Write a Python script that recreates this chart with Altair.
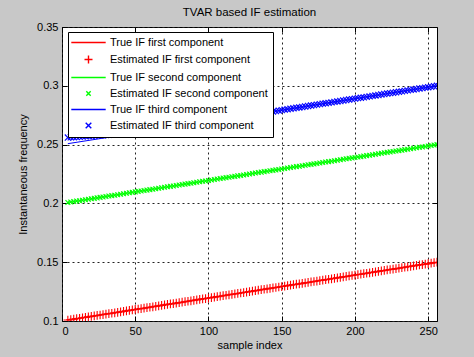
import altair as alt
import pandas as pd

true_labels = ["True IF first component", "True IF second component", "True IF third component"]
est_labels = ["Estimated IF first component", "Estimated IF second component", "Estimated IF third component"]
legend_order = [true_labels[0], est_labels[0], true_labels[1], est_labels[1], true_labels[2], est_labels[2]]

x_ticks = [0, 50, 100, 150, 200, 250]
y_ticks = [0.1, 0.15, 0.2, 0.25, 0.3, 0.35]

# True instantaneous frequency lines (end points)
true_x = [4, 256]
true_first = [0.1008, 0.1500]
true_second = [0.2008, 0.2500]
true_third = [0.2508, 0.3000]

# Estimated IF samples
est_samples = [4, 6, 8, 10, 12, 14, 16, 18, 20, 22, 24, 26, 28, 30, 32, 34,
               36, 38, 40, 42, 44, 46, 48, 50, 52, 54, 56, 58, 60, 62, 64, 66,
               68, 70, 72, 74, 76, 78, 80, 82, 84, 86, 88, 90, 92, 94, 96, 98,
               100, 102, 104, 106, 108, 110, 112, 114, 116, 118, 120, 122, 124, 126, 128, 130,
               132, 134, 136, 138, 140, 142, 144, 146, 148, 150, 152, 154, 156, 158, 160, 162,
               164, 166, 168, 170, 172, 174, 176, 178, 180, 182, 184, 186, 188, 190, 192, 194,
               196, 198, 200, 202, 204, 206, 208, 210, 212, 214, 216, 218, 220, 222, 224, 226,
               228, 230, 232, 234, 236, 238, 240, 242, 244, 246, 248, 250, 252, 254, 256]
est_first = [0.1008, 0.1012, 0.1016, 0.1020, 0.1023, 0.1027, 0.1031, 0.1035, 0.1039, 0.1043, 0.1047, 0.1051, 0.1055, 0.1059, 0.1063, 0.1066,
             0.1070, 0.1074, 0.1078, 0.1082, 0.1086, 0.1090, 0.1094, 0.1098, 0.1102, 0.1105, 0.1109, 0.1113, 0.1117, 0.1121, 0.1125, 0.1129,
             0.1133, 0.1137, 0.1141, 0.1145, 0.1148, 0.1152, 0.1156, 0.1160, 0.1164, 0.1168, 0.1172, 0.1176, 0.1180, 0.1184, 0.1188, 0.1191,
             0.1195, 0.1199, 0.1203, 0.1207, 0.1211, 0.1215, 0.1219, 0.1223, 0.1227, 0.1230, 0.1234, 0.1238, 0.1242, 0.1246, 0.1250, 0.1254,
             0.1258, 0.1262, 0.1266, 0.1270, 0.1273, 0.1277, 0.1281, 0.1285, 0.1289, 0.1293, 0.1297, 0.1301, 0.1305, 0.1309, 0.1313, 0.1316,
             0.1320, 0.1324, 0.1328, 0.1332, 0.1336, 0.1340, 0.1344, 0.1348, 0.1352, 0.1355, 0.1359, 0.1363, 0.1367, 0.1371, 0.1375, 0.1379,
             0.1383, 0.1387, 0.1391, 0.1395, 0.1398, 0.1402, 0.1406, 0.1410, 0.1414, 0.1418, 0.1422, 0.1426, 0.1430, 0.1434, 0.1438, 0.1441,
             0.1445, 0.1449, 0.1453, 0.1457, 0.1461, 0.1465, 0.1469, 0.1473, 0.1477, 0.1480, 0.1484, 0.1488, 0.1492, 0.1496, 0.1500]
est_second = [0.2008, 0.2012, 0.2016, 0.2020, 0.2023, 0.2027, 0.2031, 0.2035, 0.2039, 0.2043, 0.2047, 0.2051, 0.2055, 0.2059, 0.2063, 0.2066,
              0.2070, 0.2074, 0.2078, 0.2082, 0.2086, 0.2090, 0.2094, 0.2098, 0.2102, 0.2105, 0.2109, 0.2113, 0.2117, 0.2121, 0.2125, 0.2129,
              0.2133, 0.2137, 0.2141, 0.2145, 0.2148, 0.2152, 0.2156, 0.2160, 0.2164, 0.2168, 0.2172, 0.2176, 0.2180, 0.2184, 0.2188, 0.2191,
              0.2195, 0.2199, 0.2203, 0.2207, 0.2211, 0.2215, 0.2219, 0.2223, 0.2227, 0.2230, 0.2234, 0.2238, 0.2242, 0.2246, 0.2250, 0.2254,
              0.2258, 0.2262, 0.2266, 0.2270, 0.2273, 0.2277, 0.2281, 0.2285, 0.2289, 0.2293, 0.2297, 0.2301, 0.2305, 0.2309, 0.2313, 0.2316,
              0.2320, 0.2324, 0.2328, 0.2332, 0.2336, 0.2340, 0.2344, 0.2348, 0.2352, 0.2355, 0.2359, 0.2363, 0.2367, 0.2371, 0.2375, 0.2379,
              0.2383, 0.2387, 0.2391, 0.2395, 0.2398, 0.2402, 0.2406, 0.2410, 0.2414, 0.2418, 0.2422, 0.2426, 0.2430, 0.2434, 0.2438, 0.2441,
              0.2445, 0.2449, 0.2453, 0.2457, 0.2461, 0.2465, 0.2469, 0.2473, 0.2477, 0.2480, 0.2484, 0.2488, 0.2492, 0.2496, 0.2500]
est_third = [0.2560, 0.2562, 0.2563, 0.2565, 0.2567, 0.2568, 0.2570, 0.2572, 0.2573, 0.2575, 0.2577, 0.2578, 0.2580, 0.2582, 0.2584, 0.2585,
             0.2587, 0.2589, 0.2591, 0.2593, 0.2594, 0.2596, 0.2598, 0.2600, 0.2602, 0.2605, 0.2609, 0.2613, 0.2617, 0.2621, 0.2625, 0.2629,
             0.2633, 0.2637, 0.2641, 0.2645, 0.2648, 0.2652, 0.2656, 0.2660, 0.2664, 0.2668, 0.2672, 0.2676, 0.2680, 0.2684, 0.2688, 0.2691,
             0.2695, 0.2699, 0.2703, 0.2707, 0.2711, 0.2715, 0.2719, 0.2723, 0.2727, 0.2730, 0.2734, 0.2738, 0.2742, 0.2746, 0.2750, 0.2754,
             0.2758, 0.2762, 0.2766, 0.2770, 0.2773, 0.2777, 0.2781, 0.2785, 0.2789, 0.2793, 0.2797, 0.2801, 0.2805, 0.2809, 0.2813, 0.2816,
             0.2820, 0.2824, 0.2828, 0.2832, 0.2836, 0.2840, 0.2844, 0.2848, 0.2852, 0.2855, 0.2859, 0.2863, 0.2867, 0.2871, 0.2875, 0.2879,
             0.2883, 0.2887, 0.2891, 0.2895, 0.2898, 0.2902, 0.2906, 0.2910, 0.2914, 0.2918, 0.2922, 0.2926, 0.2930, 0.2934, 0.2938, 0.2941,
             0.2945, 0.2949, 0.2953, 0.2957, 0.2961, 0.2965, 0.2969, 0.2973, 0.2977, 0.2980, 0.2984, 0.2988, 0.2992, 0.2996, 0.3000]

RED, GREEN, BLUE = "#ff0000", "#00ff00", "#0000ff"
PLUS = "M-1,0L1,0M0,-1L0,1"
X_SMALL = "M-0.55,-0.55L0.55,0.55M-0.55,0.55L0.55,-0.55"
X_MID = "M-0.7,-0.7L0.7,0.7M-0.7,0.7L0.7,-0.7"
LINE_SYM = "M-4.3,0L4.3,0"
FONT = "Liberation Sans"

true_df = pd.DataFrame({
    "sample": true_x * 3,
    "freq": true_first + true_second + true_third,
    "series": [true_labels[0]] * 2 + [true_labels[1]] * 2 + [true_labels[2]] * 2,
})
n = len(est_samples)
est_df = pd.DataFrame({
    "sample": est_samples * 3,
    "freq": est_first + est_second + est_third,
    "series": [est_labels[0]] * n + [est_labels[1]] * n + [est_labels[2]] * n,
})

xscale = alt.Scale(domain=[0, 256], nice=False, zero=False)
yscale = alt.Scale(domain=[0.1, 0.35], nice=False, zero=False)

lines = alt.Chart(true_df).mark_line(strokeWidth=1, clip=True).encode(
    x=alt.X("sample:Q", scale=xscale,
            axis=alt.Axis(values=x_ticks, format="d", title="sample index", grid=True,
                          offset=-5, tickSize=5, ticks=True, domain=False,
                          labelPadding=4, titlePadding=3)),
    y=alt.Y("freq:Q", scale=yscale,
            axis=alt.Axis(values=y_ticks, format="~g", title="Instantaneous frequency", grid=True,
                          offset=-5, tickSize=5, ticks=True, domain=False,
                          labelPadding=4, titlePadding=8)),
    color=alt.Color("series:N", scale=alt.Scale(domain=true_labels, range=[RED, GREEN, BLUE]), legend=None),
    detail="series:N",
)

points = alt.Chart(est_df).mark_point(filled=False, size=76, strokeWidth=1.1, clip=True, opacity=1).encode(
    x=alt.X("sample:Q", scale=xscale, axis=None),
    y=alt.Y("freq:Q", scale=yscale, axis=None),
    color=alt.Color("series:N", scale=alt.Scale(domain=est_labels, range=[RED, GREEN, BLUE]), legend=None),
    shape=alt.Shape("series:N", scale=alt.Scale(domain=est_labels, range=[PLUS, X_SMALL, X_MID]), legend=None),
)

stroke_expr = ("indexof(datum.value, 'first') >= 0 ? '" + RED + "' : "
               "(indexof(datum.value, 'second') >= 0 ? '" + GREEN + "' : '" + BLUE + "')")

legend_layer = alt.Chart(true_df).transform_filter("false").mark_point(filled=False, size=64).encode(
    x=alt.X("sample:Q", scale=xscale,
            axis=alt.Axis(orient="top", values=x_ticks, labels=False, title=None, grid=False,
                          offset=-5, tickSize=5, ticks=True, domain=False)),
    y=alt.Y("freq:Q", scale=yscale,
            axis=alt.Axis(orient="right", values=y_ticks, labels=False, title=None, grid=False,
                          offset=-5, tickSize=5, ticks=True, domain=False)),
    shape=alt.Shape("series:N",
                    scale=alt.Scale(domain=legend_order,
                                    range=[LINE_SYM, PLUS, LINE_SYM, X_SMALL, LINE_SYM, X_MID]),
                    legend=alt.Legend(title=None, orient="none", legendX=6, legendY=5, padding=5,
                                      fillColor="white", strokeColor="black", symbolOffset=10,
                                      labelOffset=16, rowPadding=4, labelFontSize=11, labelFont=FONT,
                                      labelColor="black", labelLimit=400, symbolStrokeWidth=1.4,
                                      symbolSize=64, symbolOpacity=1, symbolFillColor="transparent",
                                      symbolStrokeColor=alt.ExprRef(stroke_expr))),
)

chart = alt.layer(lines, points, legend_layer).resolve_scale(
    color="independent", shape="independent"
).resolve_axis(
    x="independent", y="independent"
).properties(
    width=375, height=294,
    title=alt.Title("TVAR based IF estimation", font=FONT, fontSize=11.5, fontWeight="normal",
                    color="black", offset=3),
    autosize=alt.AutoSizeParams(type="none"),
    padding={"left": 62, "top": 27, "right": 37, "bottom": 36},
    background="#c8c8c8",
).configure_view(
    fill="white", stroke="black", strokeWidth=1
).configure_axis(
    labelFont=FONT, labelFontSize=11, labelColor="black",
    titleFont=FONT, titleFontSize=11, titleFontWeight="normal", titleColor="black",
    tickColor="black", tickWidth=1,
    gridColor="#222222", gridDash=[2, 3], gridOpacity=1, gridWidth=1,
)

chart.save("out.html", embed_options={"renderer": "svg", "actions": False})
